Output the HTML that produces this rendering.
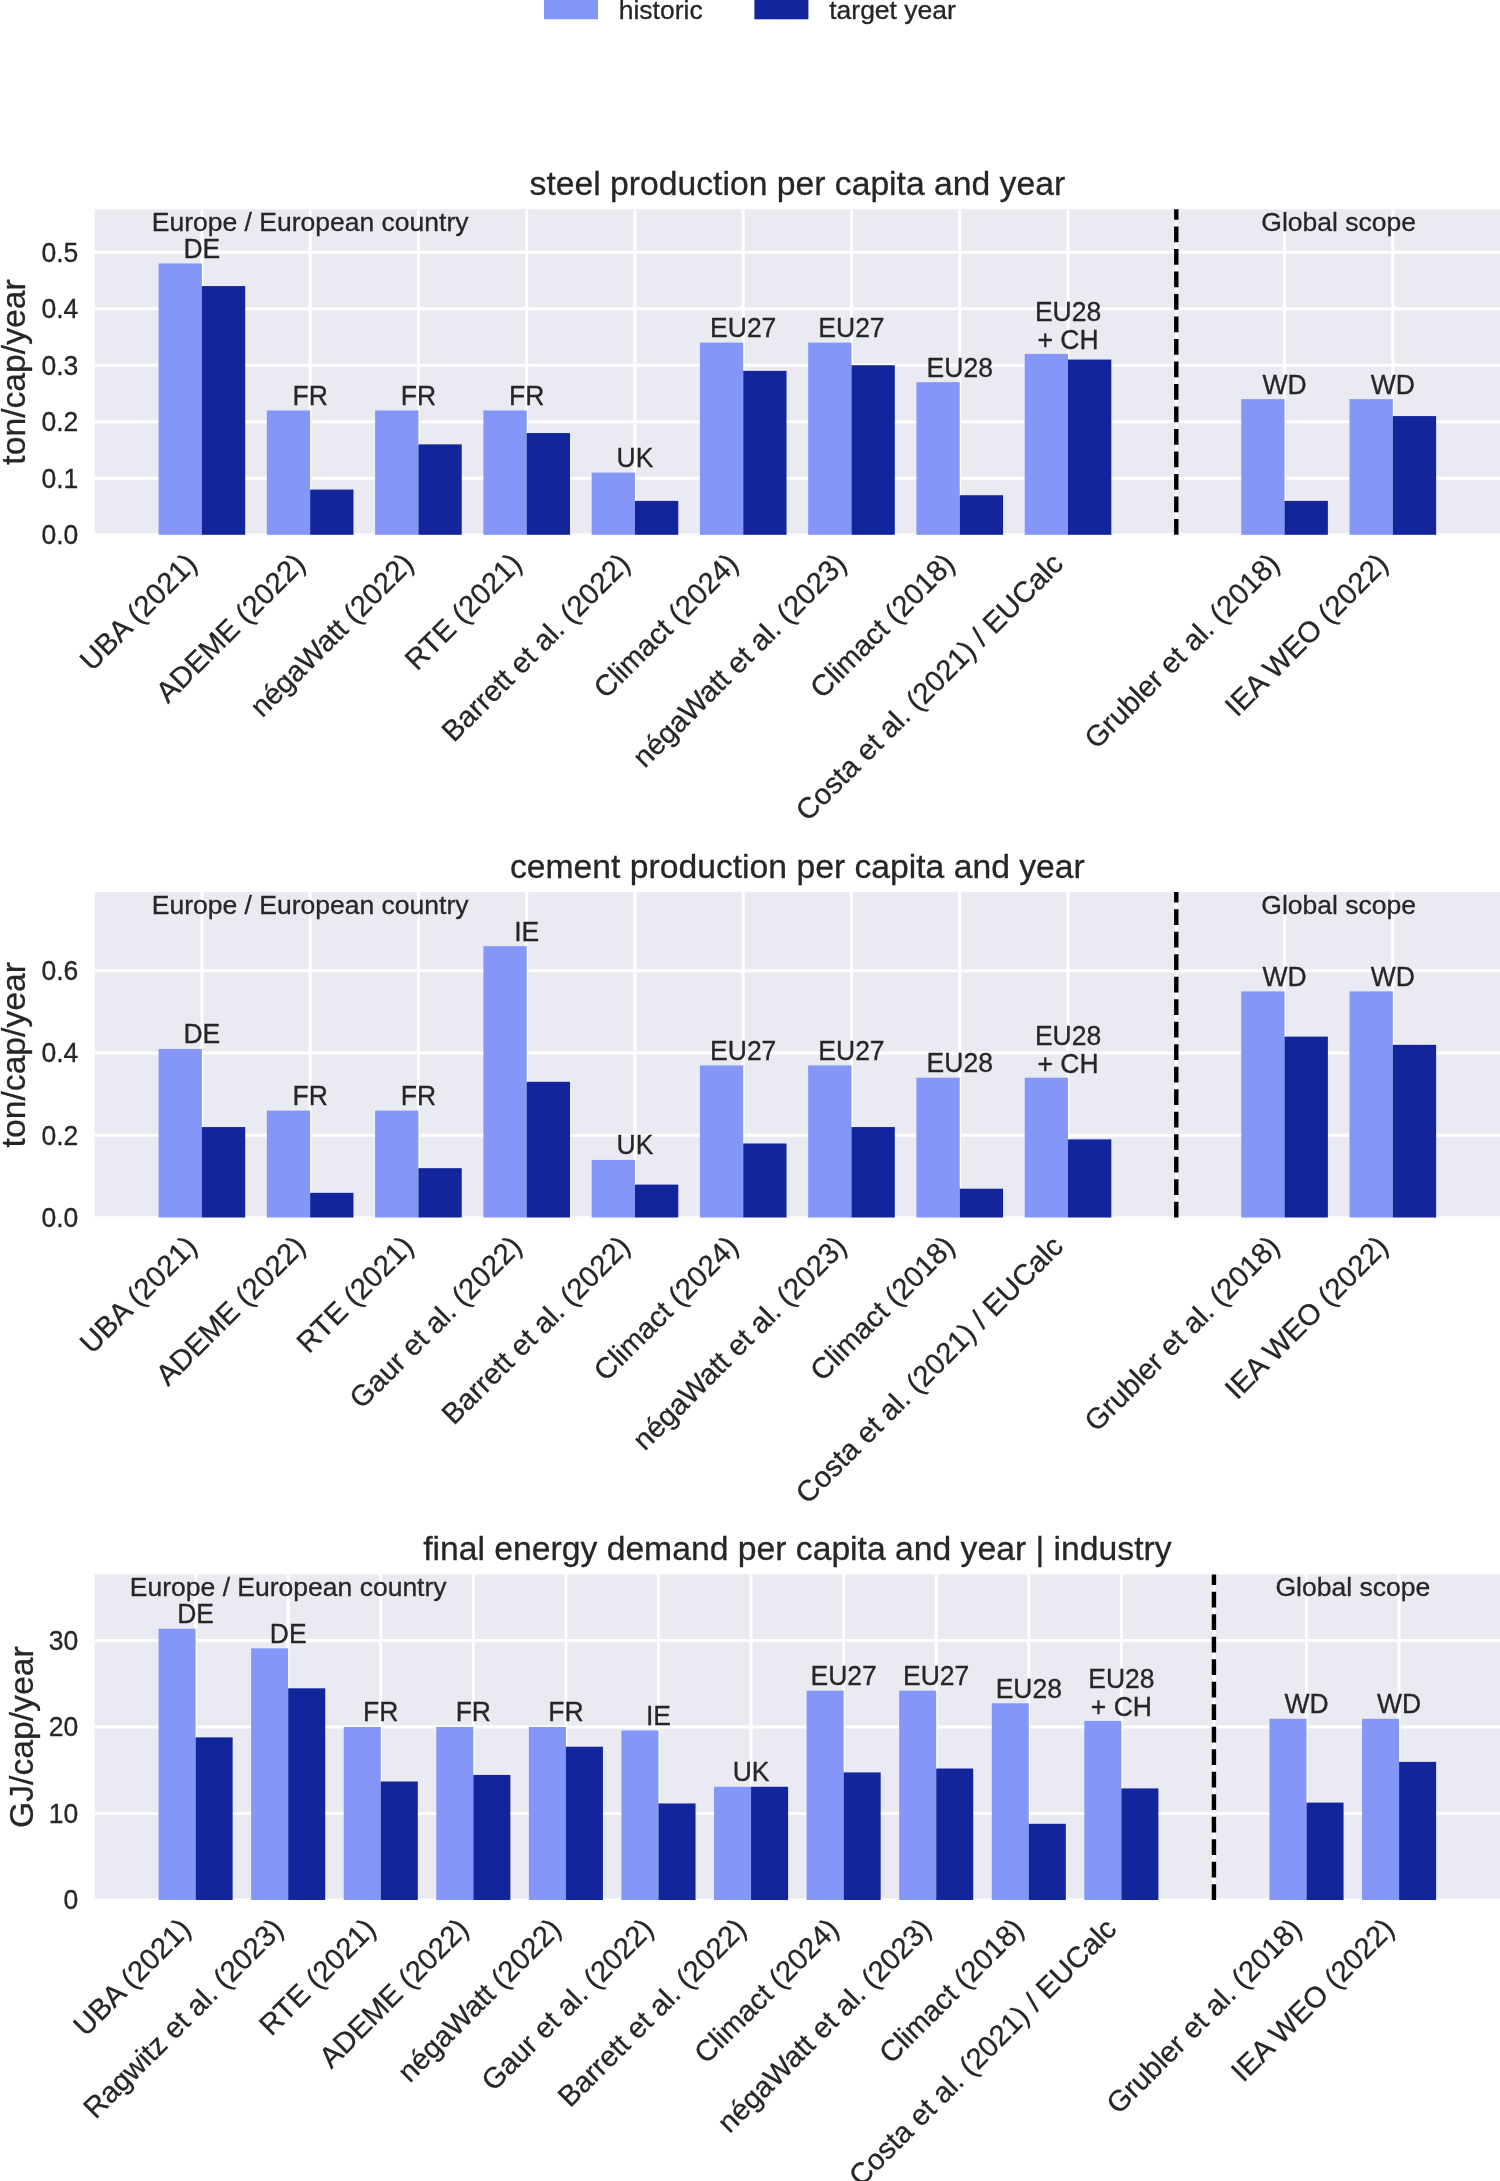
<!DOCTYPE html>
<html><head><meta charset="utf-8"><title>chart</title>
<style>
html,body{margin:0;padding:0;background:#fff;}
body{width:1500px;height:2181px;overflow:hidden;}
svg{display:block;will-change:transform;font-family:"Liberation Sans",sans-serif;}
svg text{fill:#262626;stroke:#262626;stroke-width:0.3px;}
</style></head><body>
<svg width="1500" height="2181" viewBox="0 0 1500 2181">
<rect x="544" y="0" width="54" height="19.3" fill="#8496F8"/>
<rect x="754.4" y="0" width="54" height="19.3" fill="#13259A"/>
<text transform="translate(618.7,19.1)" font-size="26.5">historic</text>
<text transform="translate(829.2,19.1)" font-size="26.5">target year</text>
<rect x="94.7" y="209.2" width="1405.3" height="325.6" fill="#EAEAF2"/><clipPath id="c209"><rect x="94.7" y="209.2" width="1405.3" height="325.6"/></clipPath><g clip-path="url(#c209)" stroke="#fff" stroke-width="3.0"><line x1="94.7" x2="1500" y1="534.8" y2="534.8"/><line x1="94.7" x2="1500" y1="478.27" y2="478.27"/><line x1="94.7" x2="1500" y1="421.74" y2="421.74"/><line x1="94.7" x2="1500" y1="365.22" y2="365.22"/><line x1="94.7" x2="1500" y1="308.69" y2="308.69"/><line x1="94.7" x2="1500" y1="252.16" y2="252.16"/><line x1="201.88" x2="201.88" y1="209.2" y2="534.8"/><line x1="310.15" x2="310.15" y1="209.2" y2="534.8"/><line x1="418.42" x2="418.42" y1="209.2" y2="534.8"/><line x1="526.68" x2="526.68" y1="209.2" y2="534.8"/><line x1="634.95" x2="634.95" y1="209.2" y2="534.8"/><line x1="743.22" x2="743.22" y1="209.2" y2="534.8"/><line x1="851.48" x2="851.48" y1="209.2" y2="534.8"/><line x1="959.75" x2="959.75" y1="209.2" y2="534.8"/><line x1="1068.02" x2="1068.02" y1="209.2" y2="534.8"/><line x1="1176.28" x2="1176.28" y1="209.2" y2="534.8"/><line x1="1284.55" x2="1284.55" y1="209.2" y2="534.8"/><line x1="1392.82" x2="1392.82" y1="209.2" y2="534.8"/></g><rect x="158.58" y="263.47" width="43.31" height="271.33" fill="#8496F8"/><rect x="201.88" y="286.08" width="43.31" height="248.72" fill="#13259A"/><rect x="266.84" y="410.44" width="43.31" height="124.36" fill="#8496F8"/><rect x="310.15" y="489.58" width="43.31" height="45.22" fill="#13259A"/><rect x="375.11" y="410.44" width="43.31" height="124.36" fill="#8496F8"/><rect x="418.42" y="444.36" width="43.31" height="90.44" fill="#13259A"/><rect x="483.38" y="410.44" width="43.31" height="124.36" fill="#8496F8"/><rect x="526.68" y="433.05" width="43.31" height="101.75" fill="#13259A"/><rect x="591.64" y="472.62" width="43.31" height="62.18" fill="#8496F8"/><rect x="634.95" y="500.88" width="43.31" height="33.92" fill="#13259A"/><rect x="699.91" y="342.61" width="43.31" height="192.19" fill="#8496F8"/><rect x="743.22" y="370.87" width="43.31" height="163.93" fill="#13259A"/><rect x="808.18" y="342.61" width="43.31" height="192.19" fill="#8496F8"/><rect x="851.48" y="365.22" width="43.31" height="169.58" fill="#13259A"/><rect x="916.44" y="382.17" width="43.31" height="152.62" fill="#8496F8"/><rect x="959.75" y="495.23" width="43.31" height="39.57" fill="#13259A"/><rect x="1024.71" y="353.91" width="43.31" height="180.89" fill="#8496F8"/><rect x="1068.02" y="359.56" width="43.31" height="175.24" fill="#13259A"/><rect x="1241.24" y="399.13" width="43.31" height="135.67" fill="#8496F8"/><rect x="1284.55" y="500.88" width="43.31" height="33.92" fill="#13259A"/><rect x="1349.51" y="399.13" width="43.31" height="135.67" fill="#8496F8"/><rect x="1392.82" y="416.09" width="43.31" height="118.71" fill="#13259A"/><line x1="1176.28" x2="1176.28" y1="534.8" y2="209.2" stroke="#000" stroke-width="4.4" stroke-dasharray="15.7 6.8"/><text transform="translate(201.88,257.87) scale(1,1.04)" font-size="26.5" text-anchor="middle">DE</text><text transform="translate(310.15,404.84) scale(1,1.04)" font-size="26.5" text-anchor="middle">FR</text><text transform="translate(418.42,404.84) scale(1,1.04)" font-size="26.5" text-anchor="middle">FR</text><text transform="translate(526.68,404.84) scale(1,1.04)" font-size="26.5" text-anchor="middle">FR</text><text transform="translate(634.95,467.02) scale(1,1.04)" font-size="26.5" text-anchor="middle">UK</text><text transform="translate(743.22,337.01) scale(1,1.04)" font-size="26.5" text-anchor="middle">EU27</text><text transform="translate(851.48,337.01) scale(1,1.04)" font-size="26.5" text-anchor="middle">EU27</text><text transform="translate(959.75,376.57) scale(1,1.04)" font-size="26.5" text-anchor="middle">EU28</text><text transform="translate(1068.02,349.21) scale(1,1.04)" font-size="26.5" text-anchor="middle">+ CH</text><text transform="translate(1068.02,321.11) scale(1,1.04)" font-size="26.5" text-anchor="middle">EU28</text><text transform="translate(1284.55,393.53) scale(1,1.04)" font-size="26.5" text-anchor="middle">WD</text><text transform="translate(1392.82,393.53) scale(1,1.04)" font-size="26.5" text-anchor="middle">WD</text><text transform="translate(310.15,230.9)" font-size="26.5" text-anchor="middle">Europe / European country</text><text transform="translate(1338.68,230.9)" font-size="26.5" text-anchor="middle">Global scope</text><text transform="translate(797.35,195.2)" font-size="33.7" text-anchor="middle">steel production per capita and year</text><text transform="translate(78.3,544.2) scale(1,1.04)" font-size="26.5" text-anchor="end">0.0</text><text transform="translate(78.3,487.67) scale(1,1.04)" font-size="26.5" text-anchor="end">0.1</text><text transform="translate(78.3,431.14) scale(1,1.04)" font-size="26.5" text-anchor="end">0.2</text><text transform="translate(78.3,374.62) scale(1,1.04)" font-size="26.5" text-anchor="end">0.3</text><text transform="translate(78.3,318.09) scale(1,1.04)" font-size="26.5" text-anchor="end">0.4</text><text transform="translate(78.3,261.56) scale(1,1.04)" font-size="26.5" text-anchor="end">0.5</text><text transform="translate(24.8,372) rotate(-90)" font-size="33.7" text-anchor="middle">ton/cap/year</text><text transform="translate(198.58,565.5) rotate(-45)" font-size="29.2" text-anchor="end">UBA (2021)</text><text transform="translate(306.85,565.5) rotate(-45)" font-size="29.2" text-anchor="end">ADEME (2022)</text><text transform="translate(415.12,565.5) rotate(-45)" font-size="29.2" text-anchor="end">négaWatt (2022)</text><text transform="translate(523.38,565.5) rotate(-45)" font-size="29.2" text-anchor="end">RTE (2021)</text><text transform="translate(631.65,565.5) rotate(-45)" font-size="29.2" text-anchor="end">Barrett et al. (2022)</text><text transform="translate(739.92,565.5) rotate(-45)" font-size="29.2" text-anchor="end">Climact (2024)</text><text transform="translate(848.18,565.5) rotate(-45)" font-size="29.2" text-anchor="end">négaWatt et al. (2023)</text><text transform="translate(956.45,565.5) rotate(-45)" font-size="29.2" text-anchor="end">Climact (2018)</text><text transform="translate(1064.72,565.5) rotate(-45)" font-size="29.2" text-anchor="end">Costa et al. (2021) / EUCalc</text><text transform="translate(1281.25,565.5) rotate(-45)" font-size="29.2" text-anchor="end">Grubler et al. (2018)</text><text transform="translate(1389.52,565.5) rotate(-45)" font-size="29.2" text-anchor="end">IEA WEO (2022)</text>
<rect x="94.7" y="891.9" width="1405.3" height="325.6" fill="#EAEAF2"/><clipPath id="c891"><rect x="94.7" y="891.9" width="1405.3" height="325.6"/></clipPath><g clip-path="url(#c891)" stroke="#fff" stroke-width="3.0"><line x1="94.7" x2="1500" y1="1217.5" y2="1217.5"/><line x1="94.7" x2="1500" y1="1135.28" y2="1135.28"/><line x1="94.7" x2="1500" y1="1053.06" y2="1053.06"/><line x1="94.7" x2="1500" y1="970.83" y2="970.83"/><line x1="201.88" x2="201.88" y1="891.9" y2="1217.5"/><line x1="310.15" x2="310.15" y1="891.9" y2="1217.5"/><line x1="418.42" x2="418.42" y1="891.9" y2="1217.5"/><line x1="526.68" x2="526.68" y1="891.9" y2="1217.5"/><line x1="634.95" x2="634.95" y1="891.9" y2="1217.5"/><line x1="743.22" x2="743.22" y1="891.9" y2="1217.5"/><line x1="851.48" x2="851.48" y1="891.9" y2="1217.5"/><line x1="959.75" x2="959.75" y1="891.9" y2="1217.5"/><line x1="1068.02" x2="1068.02" y1="891.9" y2="1217.5"/><line x1="1176.28" x2="1176.28" y1="891.9" y2="1217.5"/><line x1="1284.55" x2="1284.55" y1="891.9" y2="1217.5"/><line x1="1392.82" x2="1392.82" y1="891.9" y2="1217.5"/></g><rect x="158.58" y="1048.94" width="43.31" height="168.56" fill="#8496F8"/><rect x="201.88" y="1127.06" width="43.31" height="90.44" fill="#13259A"/><rect x="266.84" y="1110.61" width="43.31" height="106.89" fill="#8496F8"/><rect x="310.15" y="1192.83" width="43.31" height="24.67" fill="#13259A"/><rect x="375.11" y="1110.61" width="43.31" height="106.89" fill="#8496F8"/><rect x="418.42" y="1168.17" width="43.31" height="49.33" fill="#13259A"/><rect x="483.38" y="946.17" width="43.31" height="271.33" fill="#8496F8"/><rect x="526.68" y="1081.83" width="43.31" height="135.67" fill="#13259A"/><rect x="591.64" y="1159.94" width="43.31" height="57.56" fill="#8496F8"/><rect x="634.95" y="1184.61" width="43.31" height="32.89" fill="#13259A"/><rect x="699.91" y="1065.39" width="43.31" height="152.11" fill="#8496F8"/><rect x="743.22" y="1143.5" width="43.31" height="74" fill="#13259A"/><rect x="808.18" y="1065.39" width="43.31" height="152.11" fill="#8496F8"/><rect x="851.48" y="1127.06" width="43.31" height="90.44" fill="#13259A"/><rect x="916.44" y="1077.72" width="43.31" height="139.78" fill="#8496F8"/><rect x="959.75" y="1188.72" width="43.31" height="28.78" fill="#13259A"/><rect x="1024.71" y="1077.72" width="43.31" height="139.78" fill="#8496F8"/><rect x="1068.02" y="1139.39" width="43.31" height="78.11" fill="#13259A"/><rect x="1241.24" y="991.39" width="43.31" height="226.11" fill="#8496F8"/><rect x="1284.55" y="1036.61" width="43.31" height="180.89" fill="#13259A"/><rect x="1349.51" y="991.39" width="43.31" height="226.11" fill="#8496F8"/><rect x="1392.82" y="1044.83" width="43.31" height="172.67" fill="#13259A"/><line x1="1176.28" x2="1176.28" y1="1217.5" y2="891.9" stroke="#000" stroke-width="4.4" stroke-dasharray="15.7 6.8"/><text transform="translate(201.88,1043.34) scale(1,1.04)" font-size="26.5" text-anchor="middle">DE</text><text transform="translate(310.15,1105.01) scale(1,1.04)" font-size="26.5" text-anchor="middle">FR</text><text transform="translate(418.42,1105.01) scale(1,1.04)" font-size="26.5" text-anchor="middle">FR</text><text transform="translate(526.68,940.57) scale(1,1.04)" font-size="26.5" text-anchor="middle">IE</text><text transform="translate(634.95,1154.34) scale(1,1.04)" font-size="26.5" text-anchor="middle">UK</text><text transform="translate(743.22,1059.79) scale(1,1.04)" font-size="26.5" text-anchor="middle">EU27</text><text transform="translate(851.48,1059.79) scale(1,1.04)" font-size="26.5" text-anchor="middle">EU27</text><text transform="translate(959.75,1072.12) scale(1,1.04)" font-size="26.5" text-anchor="middle">EU28</text><text transform="translate(1068.02,1073.02) scale(1,1.04)" font-size="26.5" text-anchor="middle">+ CH</text><text transform="translate(1068.02,1044.92) scale(1,1.04)" font-size="26.5" text-anchor="middle">EU28</text><text transform="translate(1284.55,985.79) scale(1,1.04)" font-size="26.5" text-anchor="middle">WD</text><text transform="translate(1392.82,985.79) scale(1,1.04)" font-size="26.5" text-anchor="middle">WD</text><text transform="translate(310.15,913.6)" font-size="26.5" text-anchor="middle">Europe / European country</text><text transform="translate(1338.68,913.6)" font-size="26.5" text-anchor="middle">Global scope</text><text transform="translate(797.35,877.9)" font-size="33.7" text-anchor="middle">cement production per capita and year</text><text transform="translate(78.3,1226.9) scale(1,1.04)" font-size="26.5" text-anchor="end">0.0</text><text transform="translate(78.3,1144.68) scale(1,1.04)" font-size="26.5" text-anchor="end">0.2</text><text transform="translate(78.3,1062.46) scale(1,1.04)" font-size="26.5" text-anchor="end">0.4</text><text transform="translate(78.3,980.23) scale(1,1.04)" font-size="26.5" text-anchor="end">0.6</text><text transform="translate(24.8,1054.7) rotate(-90)" font-size="33.7" text-anchor="middle">ton/cap/year</text><text transform="translate(198.58,1248.2) rotate(-45)" font-size="29.2" text-anchor="end">UBA (2021)</text><text transform="translate(306.85,1248.2) rotate(-45)" font-size="29.2" text-anchor="end">ADEME (2022)</text><text transform="translate(415.12,1248.2) rotate(-45)" font-size="29.2" text-anchor="end">RTE (2021)</text><text transform="translate(523.38,1248.2) rotate(-45)" font-size="29.2" text-anchor="end">Gaur et al. (2022)</text><text transform="translate(631.65,1248.2) rotate(-45)" font-size="29.2" text-anchor="end">Barrett et al. (2022)</text><text transform="translate(739.92,1248.2) rotate(-45)" font-size="29.2" text-anchor="end">Climact (2024)</text><text transform="translate(848.18,1248.2) rotate(-45)" font-size="29.2" text-anchor="end">négaWatt et al. (2023)</text><text transform="translate(956.45,1248.2) rotate(-45)" font-size="29.2" text-anchor="end">Climact (2018)</text><text transform="translate(1064.72,1248.2) rotate(-45)" font-size="29.2" text-anchor="end">Costa et al. (2021) / EUCalc</text><text transform="translate(1281.25,1248.2) rotate(-45)" font-size="29.2" text-anchor="end">Grubler et al. (2018)</text><text transform="translate(1389.52,1248.2) rotate(-45)" font-size="29.2" text-anchor="end">IEA WEO (2022)</text>
<rect x="94.7" y="1574.4" width="1405.3" height="325.6" fill="#EAEAF2"/><clipPath id="c1574"><rect x="94.7" y="1574.4" width="1405.3" height="325.6"/></clipPath><g clip-path="url(#c1574)" stroke="#fff" stroke-width="3.0"><line x1="94.7" x2="1500" y1="1900" y2="1900"/><line x1="94.7" x2="1500" y1="1813.5" y2="1813.5"/><line x1="94.7" x2="1500" y1="1726.99" y2="1726.99"/><line x1="94.7" x2="1500" y1="1640.49" y2="1640.49"/><line x1="195.61" x2="195.61" y1="1574.4" y2="1900"/><line x1="288.18" x2="288.18" y1="1574.4" y2="1900"/><line x1="380.76" x2="380.76" y1="1574.4" y2="1900"/><line x1="473.33" x2="473.33" y1="1574.4" y2="1900"/><line x1="565.91" x2="565.91" y1="1574.4" y2="1900"/><line x1="658.49" x2="658.49" y1="1574.4" y2="1900"/><line x1="751.06" x2="751.06" y1="1574.4" y2="1900"/><line x1="843.64" x2="843.64" y1="1574.4" y2="1900"/><line x1="936.21" x2="936.21" y1="1574.4" y2="1900"/><line x1="1028.79" x2="1028.79" y1="1574.4" y2="1900"/><line x1="1121.37" x2="1121.37" y1="1574.4" y2="1900"/><line x1="1213.94" x2="1213.94" y1="1574.4" y2="1900"/><line x1="1306.52" x2="1306.52" y1="1574.4" y2="1900"/><line x1="1399.09" x2="1399.09" y1="1574.4" y2="1900"/></g><rect x="158.58" y="1628.72" width="37.03" height="271.28" fill="#8496F8"/><rect x="195.61" y="1737.37" width="37.03" height="162.63" fill="#13259A"/><rect x="251.15" y="1648.36" width="37.03" height="251.64" fill="#8496F8"/><rect x="288.18" y="1688.33" width="37.03" height="211.67" fill="#13259A"/><rect x="343.73" y="1726.99" width="37.03" height="173.01" fill="#8496F8"/><rect x="380.76" y="1781.49" width="37.03" height="118.51" fill="#13259A"/><rect x="436.3" y="1726.99" width="37.03" height="173.01" fill="#8496F8"/><rect x="473.33" y="1774.92" width="37.03" height="125.08" fill="#13259A"/><rect x="528.88" y="1726.99" width="37.03" height="173.01" fill="#8496F8"/><rect x="565.91" y="1746.72" width="37.03" height="153.28" fill="#13259A"/><rect x="621.46" y="1730.45" width="37.03" height="169.55" fill="#8496F8"/><rect x="658.49" y="1803.46" width="37.03" height="96.54" fill="#13259A"/><rect x="714.03" y="1786.77" width="37.03" height="113.23" fill="#8496F8"/><rect x="751.06" y="1786.77" width="37.03" height="113.23" fill="#13259A"/><rect x="806.61" y="1690.66" width="37.03" height="209.34" fill="#8496F8"/><rect x="843.64" y="1772.41" width="37.03" height="127.59" fill="#13259A"/><rect x="899.18" y="1690.66" width="37.03" height="209.34" fill="#8496F8"/><rect x="936.21" y="1768.51" width="37.03" height="131.49" fill="#13259A"/><rect x="991.76" y="1703.29" width="37.03" height="196.71" fill="#8496F8"/><rect x="1028.79" y="1823.79" width="37.03" height="76.21" fill="#13259A"/><rect x="1084.33" y="1720.94" width="37.03" height="179.06" fill="#8496F8"/><rect x="1121.37" y="1788.41" width="37.03" height="111.59" fill="#13259A"/><rect x="1269.49" y="1718.77" width="37.03" height="181.23" fill="#8496F8"/><rect x="1306.52" y="1802.6" width="37.03" height="97.4" fill="#13259A"/><rect x="1362.06" y="1718.77" width="37.03" height="181.23" fill="#8496F8"/><rect x="1399.09" y="1761.85" width="37.03" height="138.15" fill="#13259A"/><line x1="1213.94" x2="1213.94" y1="1900" y2="1574.4" stroke="#000" stroke-width="4.4" stroke-dasharray="15.7 6.8"/><text transform="translate(195.61,1623.12) scale(1,1.04)" font-size="26.5" text-anchor="middle">DE</text><text transform="translate(288.18,1642.76) scale(1,1.04)" font-size="26.5" text-anchor="middle">DE</text><text transform="translate(380.76,1721.39) scale(1,1.04)" font-size="26.5" text-anchor="middle">FR</text><text transform="translate(473.33,1721.39) scale(1,1.04)" font-size="26.5" text-anchor="middle">FR</text><text transform="translate(565.91,1721.39) scale(1,1.04)" font-size="26.5" text-anchor="middle">FR</text><text transform="translate(658.49,1724.85) scale(1,1.04)" font-size="26.5" text-anchor="middle">IE</text><text transform="translate(751.06,1781.17) scale(1,1.04)" font-size="26.5" text-anchor="middle">UK</text><text transform="translate(843.64,1685.06) scale(1,1.04)" font-size="26.5" text-anchor="middle">EU27</text><text transform="translate(936.21,1685.06) scale(1,1.04)" font-size="26.5" text-anchor="middle">EU27</text><text transform="translate(1028.79,1697.69) scale(1,1.04)" font-size="26.5" text-anchor="middle">EU28</text><text transform="translate(1121.37,1716.24) scale(1,1.04)" font-size="26.5" text-anchor="middle">+ CH</text><text transform="translate(1121.37,1688.14) scale(1,1.04)" font-size="26.5" text-anchor="middle">EU28</text><text transform="translate(1306.52,1713.17) scale(1,1.04)" font-size="26.5" text-anchor="middle">WD</text><text transform="translate(1399.09,1713.17) scale(1,1.04)" font-size="26.5" text-anchor="middle">WD</text><text transform="translate(288.18,1596.1)" font-size="26.5" text-anchor="middle">Europe / European country</text><text transform="translate(1352.8,1596.1)" font-size="26.5" text-anchor="middle">Global scope</text><text transform="translate(797.35,1560.4)" font-size="33.7" text-anchor="middle">final energy demand per capita and year | industry</text><text transform="translate(78.3,1909.4) scale(1,1.04)" font-size="26.5" text-anchor="end">0</text><text transform="translate(78.3,1822.9) scale(1,1.04)" font-size="26.5" text-anchor="end">10</text><text transform="translate(78.3,1736.39) scale(1,1.04)" font-size="26.5" text-anchor="end">20</text><text transform="translate(78.3,1649.89) scale(1,1.04)" font-size="26.5" text-anchor="end">30</text><text transform="translate(32.6,1737.2) rotate(-90)" font-size="33.7" text-anchor="middle">GJ/cap/year</text><text transform="translate(192.31,1930.7) rotate(-45)" font-size="29.2" text-anchor="end">UBA (2021)</text><text transform="translate(284.88,1930.7) rotate(-45)" font-size="29.2" text-anchor="end">Ragwitz et al. (2023)</text><text transform="translate(377.46,1930.7) rotate(-45)" font-size="29.2" text-anchor="end">RTE (2021)</text><text transform="translate(470.03,1930.7) rotate(-45)" font-size="29.2" text-anchor="end">ADEME (2022)</text><text transform="translate(562.61,1930.7) rotate(-45)" font-size="29.2" text-anchor="end">négaWatt (2022)</text><text transform="translate(655.19,1930.7) rotate(-45)" font-size="29.2" text-anchor="end">Gaur et al. (2022)</text><text transform="translate(747.76,1930.7) rotate(-45)" font-size="29.2" text-anchor="end">Barrett et al. (2022)</text><text transform="translate(840.34,1930.7) rotate(-45)" font-size="29.2" text-anchor="end">Climact (2024)</text><text transform="translate(932.91,1930.7) rotate(-45)" font-size="29.2" text-anchor="end">négaWatt et al. (2023)</text><text transform="translate(1025.49,1930.7) rotate(-45)" font-size="29.2" text-anchor="end">Climact (2018)</text><text transform="translate(1118.07,1930.7) rotate(-45)" font-size="29.2" text-anchor="end">Costa et al. (2021) / EUCalc</text><text transform="translate(1303.22,1930.7) rotate(-45)" font-size="29.2" text-anchor="end">Grubler et al. (2018)</text><text transform="translate(1395.79,1930.7) rotate(-45)" font-size="29.2" text-anchor="end">IEA WEO (2022)</text>
</svg>
</body></html>
